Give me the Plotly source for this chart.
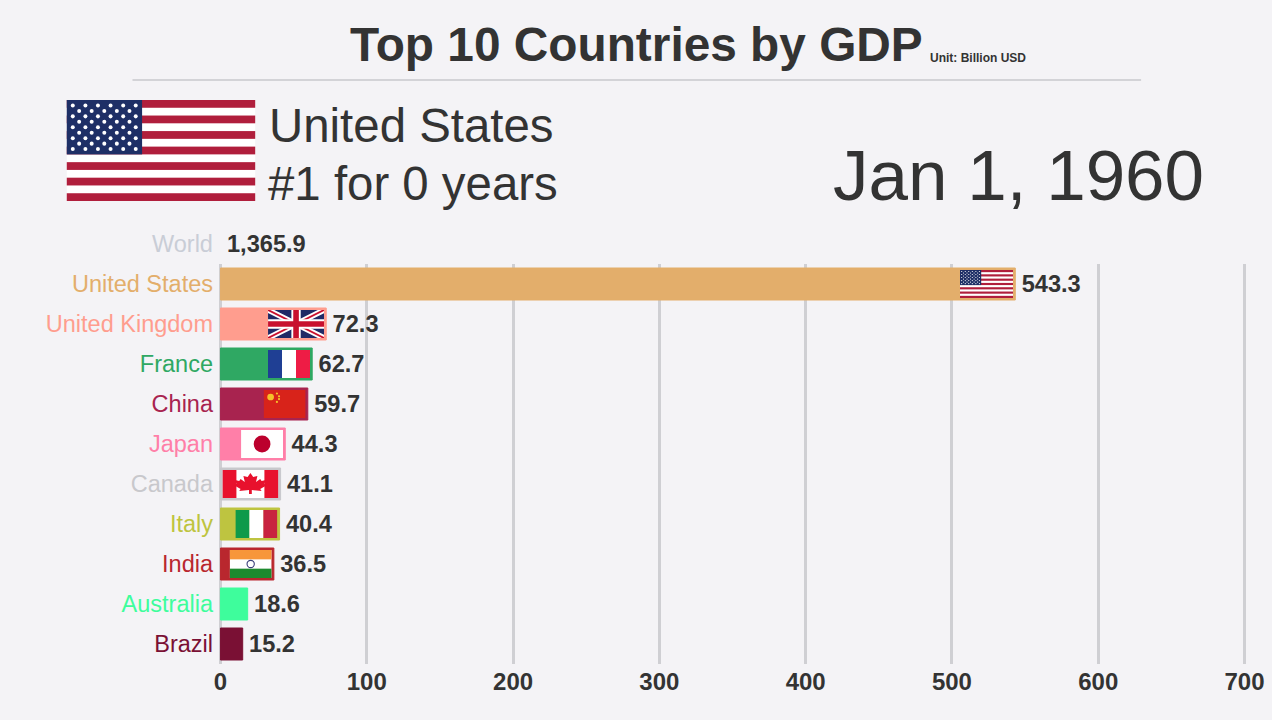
import base64
import plotly.graph_objects as go

countries = ["United States", "United Kingdom", "France", "China", "Japan",
             "Canada", "Italy", "India", "Australia", "Brazil"]
gdp = [543.3, 72.3, 62.7, 59.7, 44.3, 41.1, 40.4, 36.5, 18.6, 15.2]
colors = ["#E3AE6B", "#FF9D8E", "#2FA863", "#A8234F", "#FF7FA8",
          "#C8C8CC", "#BEC440", "#B9272E", "#3EFD9C", "#7A1034"]
world_gdp = 1365.9
x_ticks = [0, 100, 200, 300, 400, 500, 600, 700]

DARK = "#333333"
BG = "#F4F3F6"
FONT = "Liberation Sans, Arial, sans-serif"

# plot area in page pixels
LEFT, RIGHT, TOP, BOTTOM = 218.54, 1245.96, 264, 664
PLOT_W = RIGHT - LEFT
PLOT_H = BOTTOM - TOP
PX_PER_UNIT = PLOT_W / 702


def svg_uri(w, h, body):
    svg = f'<svg xmlns="http://www.w3.org/2000/svg" viewBox="0 0 {w} {h}" width="{w*4}" height="{h*4}">{body}</svg>'
    return "data:image/svg+xml;base64," + base64.b64encode(svg.encode()).decode()


def tricolor(a, b, c):
    return svg_uri(3, 2, f'<rect width="1.02" height="2" fill="{a}"/><rect x="1" width="1.02" height="2" fill="{b}"/>'
                         f'<rect x="2" width="1" height="2" fill="{c}"/>')


def us_flag():
    body = '<rect width="190" height="100" fill="#fff"/>'
    for i in range(0, 13, 2):
        body += f'<rect y="{i*100/13:.2f}" width="190" height="{100/13:.2f}" fill="#B01E3C"/>'
    body += '<rect width="76" height="53.85" fill="#1E2F66"/>'
    for row in range(9):
        for col in range(6 if row % 2 == 0 else 5):
            cx = 6.33 * (1 + 2 * col) if row % 2 == 0 else 6.33 * (2 + 2 * col)
            body += f'<circle cx="{cx:.1f}" cy="{5.4 + row*5.4:.1f}" r="2" fill="#fff"/>'
    return svg_uri(190, 100, body)


def uk_flag():
    body = ('<rect width="60" height="30" fill="#1F2A66"/>'
            '<path d="M0,0 L60,30 M60,0 L0,30" stroke="#fff" stroke-width="6"/>'
            '<path d="M0,0 L60,30 M60,0 L0,30" stroke="#C8102E" stroke-width="2"/>'
            '<path d="M30,0 V30 M0,15 H60" stroke="#fff" stroke-width="10"/>'
            '<path d="M30,0 V30 M0,15 H60" stroke="#C8102E" stroke-width="6"/>')
    return svg_uri(60, 30, body)


def china_flag():
    body = ('<rect width="30" height="20" fill="#D8231A"/>'
            '<circle cx="5" cy="5" r="2.4" fill="#F5C02A"/>'
            '<circle cx="9.5" cy="2.5" r="0.8" fill="#F5C02A"/><circle cx="11" cy="4.5" r="0.8" fill="#F5C02A"/>'
            '<circle cx="11" cy="6.5" r="0.8" fill="#F5C02A"/><circle cx="9.5" cy="8.5" r="0.8" fill="#F5C02A"/>')
    return svg_uri(30, 20, body)


def japan_flag():
    return svg_uri(30, 20, '<rect width="30" height="20" fill="#fff"/><circle cx="15" cy="10" r="6" fill="#BC002D"/>')


def canada_flag():
    leaf = ("20,3 22,7 25,6 24,12 27,9 28,11 31,10 30,14 32,15 27,19 28,21 "
            "21,20 21,24 19,24 19,20 12,21 13,19 8,15 10,14 9,10 12,11 13,9 16,12 15,6 18,7")
    body = ('<rect width="40" height="28" fill="#fff"/>'
            '<rect width="10" height="28" fill="#E8112D"/><rect x="30" width="10" height="28" fill="#E8112D"/>'
            f'<polygon points="{leaf}" fill="#E8112D"/>')
    return svg_uri(40, 28, body)


def india_flag():
    body = ('<rect width="30" height="20" fill="#fff"/>'
            '<rect width="30" height="6.67" fill="#F7963A"/>'
            '<rect y="13.33" width="30" height="6.67" fill="#1E8A2E"/>'
            '<circle cx="15" cy="10" r="2.6" fill="none" stroke="#3A3F7A" stroke-width="0.8"/>')
    return svg_uri(30, 20, body)


# flag picture and aspect for each bar, None = no flag
flags = [(us_flag(), 1.9), (uk_flag(), 2.0), (tricolor("#1F3F94", "#ffffff", "#EE1C45"), 1.5),
         (china_flag(), 1.5), (japan_flag(), 1.5), (canada_flag(), 2.0),
         (tricolor("#0E9A4A", "#ffffff", "#C8233F"), 1.5), (india_flag(), 1.5), None, None]

ranks = list(range(len(countries)))

fig = go.Figure()
fig.add_bar(
    x=gdp, y=ranks, orientation="h", width=0.8,
    marker=dict(color=colors, line=dict(color=colors, width=1)),
    text=[f'<span style="font-size:12px">\u00a0</span>{v:,.1f}' for v in gdp], textposition="outside",
    textfont=dict(family=FONT, size=23.6, color=DARK, weight="bold"),
    cliponaxis=False, hoverinfo="skip",
)


def px_x(px):
    return (px - LEFT) / PLOT_W


def px_y(py):
    return (BOTTOM - py) / PLOT_H


images = []
for rank, value, flag in zip(ranks, gdp, flags):
    if flag is None:
        continue
    source, aspect = flag
    images.append(dict(source=source, xref="x", yref="y", x=value - 1.5, y=rank,
                       sizex=28 * aspect / PX_PER_UNIT, sizey=0.7, xanchor="right", yanchor="middle",
                       sizing="stretch", layer="above"))
# header flag
images.append(dict(source=us_flag(), xref="paper", yref="paper", x=px_x(66), y=px_y(100),
                   sizex=189 / PLOT_W, sizey=101 / PLOT_H, xanchor="left", yanchor="top",
                   sizing="stretch", layer="above"))


def note(text, x, y, size, color=DARK, anchor="left", bold=False):
    label = f"<b>{text}</b>" if bold else text
    return dict(text=label, x=px_x(x), y=px_y(y), xref="paper", yref="paper",
                xanchor=anchor, yanchor="middle", showarrow=False,
                font=dict(family=FONT, size=size, color=color))


fig.update_layout(
    width=1272, height=720,
    margin=dict(l=LEFT, r=1272 - RIGHT, t=TOP, b=720 - BOTTOM, autoexpand=False),
    paper_bgcolor=BG, plot_bgcolor=BG,
    showlegend=False,
    images=images,
    xaxis=dict(range=[-1, 701], tickvals=x_ticks, showgrid=True, gridcolor="#CFCFD3", gridwidth=2.5,
               zeroline=False, showline=False, ticks="", ticklabelstandoff=1, automargin=False,
               tickfont=dict(family=FONT, size=24, color=DARK, weight="bold")),
    yaxis=dict(range=[9.5, -0.5], tickvals=ranks, showgrid=False, zeroline=False, showline=False,
               ticks="", ticklabelstandoff=5, automargin=False,
               ticktext=[f'<span style="color:{c}">{n}</span>' for n, c in zip(countries, colors)],
               tickfont=dict(family=FONT, size=23.5)),
    shapes=[dict(type="line", xref="paper", yref="paper",
                 x0=px_x(132), x1=px_x(1141), y0=px_y(80), y1=px_y(80),
                 line=dict(color="#C9C9CC", width=1.5))],
    annotations=[
        note("Top 10 Countries by GDP", 348, 45, 47.8, anchor="left", bold=True),
        note("Unit: Billion USD", 928, 58, 12, anchor="left", bold=True),
        note("United States", 267, 125, 47.4),
        note("#1 for 0 years", 266, 183, 47.4),
        note("Jan 1, 1960", 831, 175, 71),
        note("World", 215, 244, 23.5, color="#C9CDD6", anchor="right"),
        note(f"{world_gdp:,.1f}", 225, 244, 23.6, bold=True),
    ],
)

# the page margin would otherwise push the figure 8px in
fig.write_html("out.html", config={"displayModeBar": False},
               post_script=f"document.body.style.margin='0';document.body.style.background='{BG}';")
